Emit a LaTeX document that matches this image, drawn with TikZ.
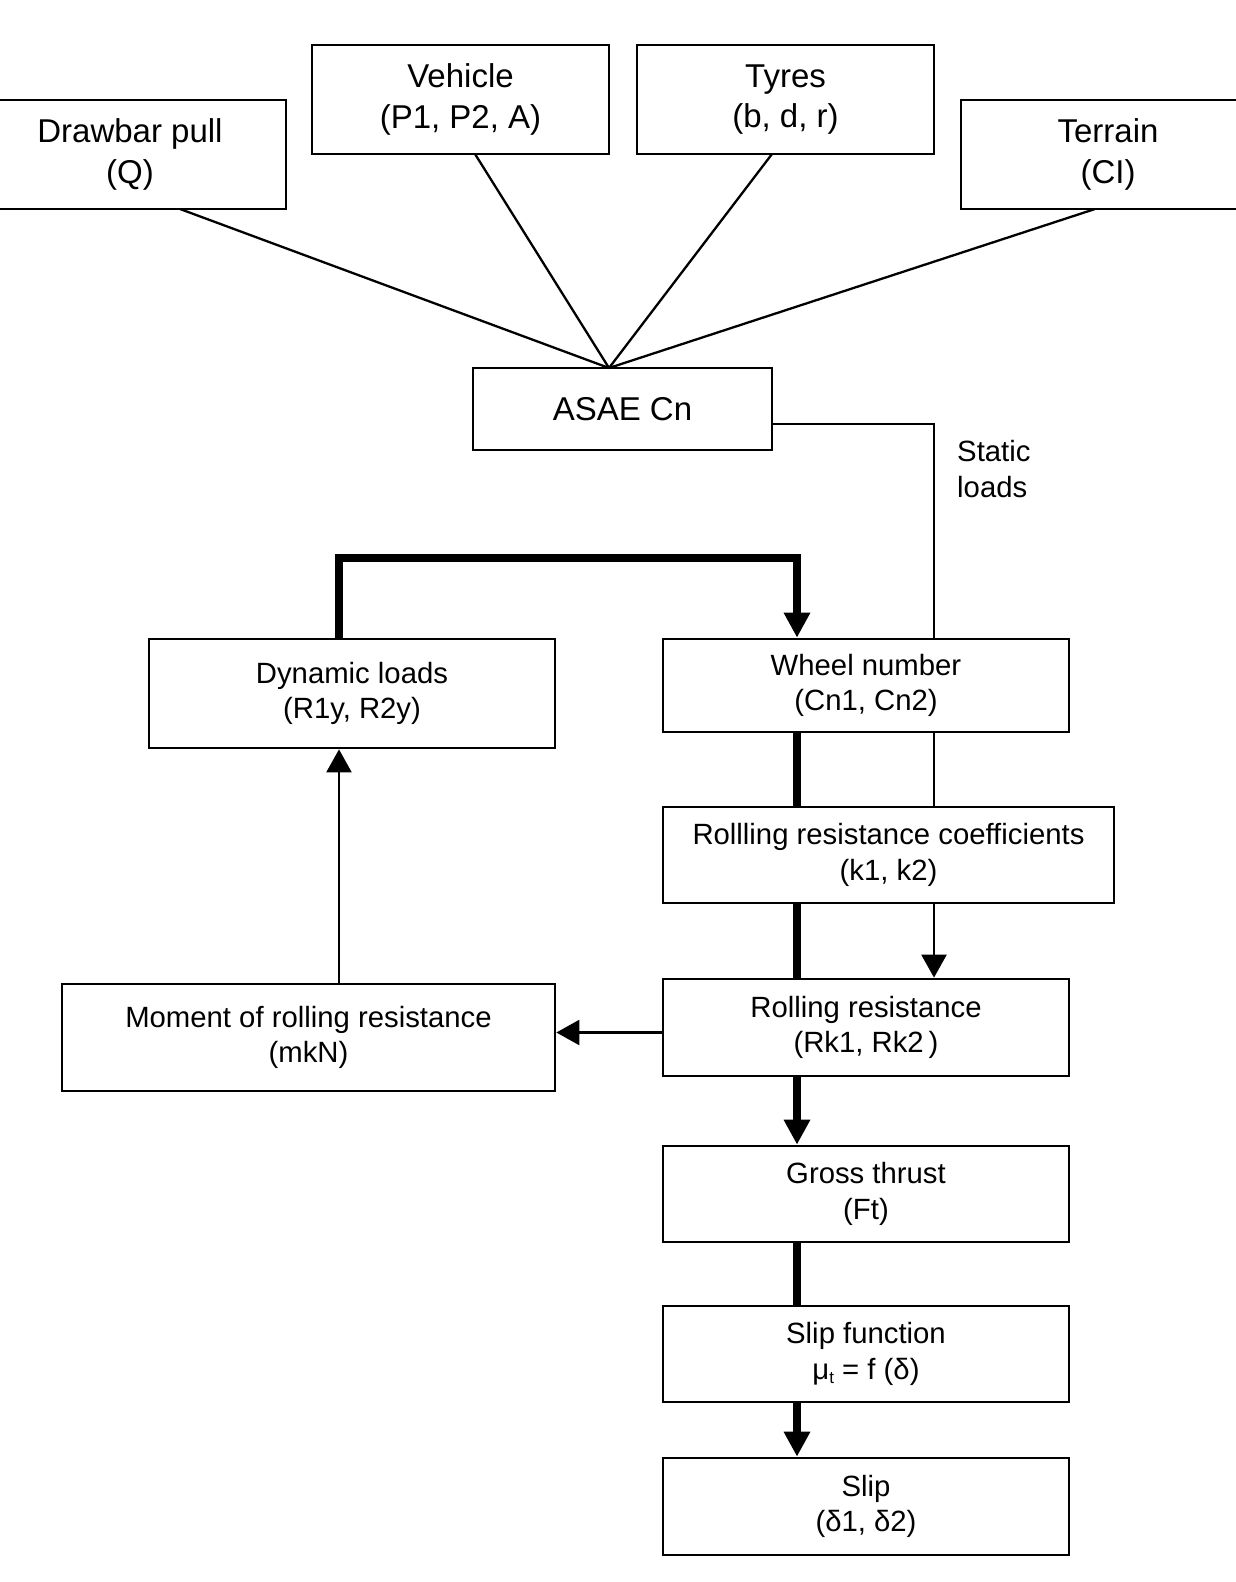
\documentclass[tikz,border=0pt]{standalone}
\usepackage{fontspec}
\setmainfont{Liberation Sans}
\usetikzlibrary{arrows.meta}
\begin{document}
\begin{tikzpicture}[x=1pt,y=-1pt,
  box/.style={draw,line width=2.7pt,inner sep=0pt,align=center},
  big/.style={font=\fontsize{33}{40.4}\selectfont},
  small/.style={font=\fontsize{29.3}{35.3}\selectfont},
  thin/.style={line width=2.3pt},
  thick/.style={line width=7.5pt},
  thinarrow/.style={thin,-{Triangle[length=23pt,width=25pt]}},
  thickarrow/.style={thick,-{Triangle[length=25pt,width=25pt]}}]
\useasboundingbox (0,0) rectangle (1235,1582);
% top row
\node[box,big,minimum width=312pt,minimum height=109pt] (db) at (130,154.5) {Drawbar pull\\(Q)};
\node[box,big,minimum width=297pt,minimum height=109pt] (veh) at (460.5,99.5) {Vehicle\\(P1, P2, A)};
\node[box,big,minimum width=297pt,minimum height=109pt] (tyr) at (785.5,99.5) {Tyres\\(b, d, r)};
\node[box,big,minimum width=294pt,minimum height=109pt] (ter) at (1108,154.5) {Terrain\\(CI)};
\node[box,big,minimum width=299pt,minimum height=82pt] (asae) at (622.5,409) {ASAE Cn};
% lower nodes
\node[box,small,minimum width=406pt,minimum height=93pt] (wheel) at (866,685.5) {Wheel number\\(Cn1, Cn2)};
\node[box,small,minimum width=406pt,minimum height=109pt] (dyn) at (352,693.5) {Dynamic loads\\(R1y, R2y)};
\node[box,small,minimum width=451pt,minimum height=96pt] (coef) at (888.5,855) {Rollling resistance coefficients\\(k1, k2)};
\node[box,small,minimum width=406pt,minimum height=97pt] (rr) at (866,1027.5) {Rolling resistance\\(Rk1, Rk2\,)};
\node[box,small,minimum width=493pt,minimum height=107pt] (mom) at (308.5,1037.5) {Moment of rolling resistance\\(mkN)};
\node[box,small,minimum width=406pt,minimum height=96pt] (gt) at (866,1194) {Gross thrust\\(Ft)};
\node[box,small,minimum width=406pt,minimum height=96pt] (sf) at (866,1354) {Slip function\\μ\raisebox{-0.25ex}{\fontsize{17}{17}\selectfont t} = f (δ)};
\node[box,small,minimum width=406pt,minimum height=97pt] (slip) at (866,1506.5) {Slip\\(δ1, δ2)};
\node[small,anchor=base west,inner sep=0pt,align=left] (stat) at (957,497) {Static\\loads};
% coordinates
\coordinate (conv) at (609,368);
\coordinate (dbs) at (180,209);
\coordinate (vehs) at (475,154);
\coordinate (tyrs) at (772,154);
\coordinate (ters) at (1095,209);
\coordinate (sl) at (934,424);
\coordinate (mc) at (797,0);
\coordinate (lp) at (339,558);
% top connectors
\draw[thin] (dbs) -- (conv);
\draw[thin] (vehs) -- (conv);
\draw[thin] (tyrs) -- (conv);
\draw[thin] (ters) -- (conv);
% static loads line
\draw[thin] (asae.east |- sl) -- (sl) -- (sl |- wheel.north);
\draw[thin] (sl |- wheel.south) -- (sl |- coef.north);
\draw[thinarrow] (sl |- coef.south) -- (sl |- rr.north);
% dynamic loop
\draw[thickarrow] (lp |- dyn.north) -- (lp) -- (mc |- lp) -- (mc |- wheel.north);
% main column
\draw[thick] (mc |- wheel.south) -- (mc |- coef.north);
\draw[thick] (mc |- coef.south) -- (mc |- rr.north);
\draw[thickarrow] (mc |- rr.south) -- (mc |- gt.north);
\draw[thick] (mc |- gt.south) -- (mc |- sf.north);
\draw[thickarrow] (mc |- sf.south) -- (mc |- slip.north);
% moment
\draw[thinarrow] ([yshift=-5pt]rr.west) -- ([yshift=-5pt]rr.west -| mom.east);
\draw[thinarrow] (lp |- mom.north) -- (lp |- dyn.south);
\end{tikzpicture}
\end{document}
